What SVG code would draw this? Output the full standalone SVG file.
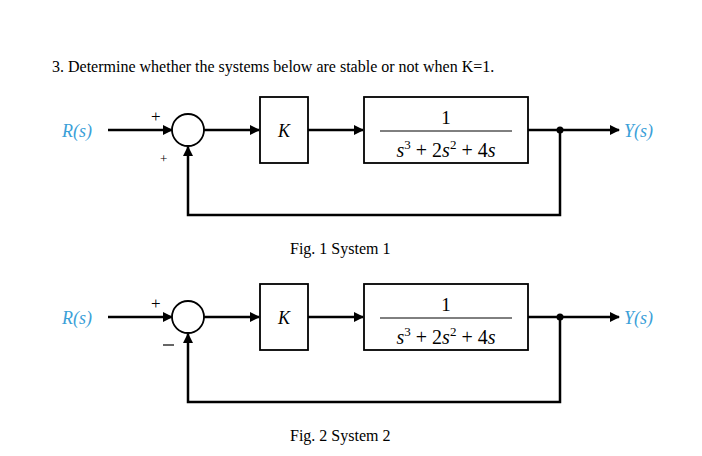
<svg xmlns="http://www.w3.org/2000/svg" width="702" height="456" viewBox="0 0 702 456">
<style>
.l{stroke:#000;stroke-width:2.5;fill:none}
.b{stroke:#000;stroke-width:1.8;fill:#fff}
.t{font-family:"Liberation Serif",serif;font-size:16px;fill:#000}
.i{font-family:"Liberation Serif",serif;font-size:18px;font-style:italic}
.c{fill:#3aa0d8}
.n{font-family:"Liberation Serif",serif;font-size:19px;font-style:normal}
.d{font-family:"Liberation Serif",serif;font-size:20px}
.sup{font-size:13px;font-style:normal}
.p{font-family:"Liberation Serif",serif;font-size:17px}
.ps{font-family:"Liberation Serif",serif;font-size:13px}
</style>
<defs><marker id="a" markerWidth="10" markerHeight="10" refX="9" refY="5" orient="auto" markerUnits="userSpaceOnUse" viewBox="0 0 10 10"><path d="M0,0L10,5L0,10z"/></marker></defs>
<text class="t" x="52" y="72">3. Determine whether the systems below are stable or not when K=1.</text>
<g id="sys1">
<g id="connectors1">
<path class="l" d="M108,130H172" marker-end="url(#a)"/>
<path class="l" d="M204,130H259" marker-end="url(#a)"/>
<path class="l" d="M308,130H363" marker-end="url(#a)"/>
<path class="l" d="M528,130H619" marker-end="url(#a)"/>
<path class="l" d="M560,130V215H188V147" marker-end="url(#a)"/>
<circle cx="560" cy="130" r="3.5"/>
</g>
<g id="sum1"><circle class="b" cx="188" cy="130" r="16"/></g>
<g id="K1"><rect class="b" x="260" y="97" width="48" height="66"/><text class="i" x="284" y="137" text-anchor="middle">K</text></g>
<g id="G1"><rect class="b" x="364" y="97" width="164" height="66"/><text class="n" x="446" y="124" text-anchor="middle">1</text><path d="M380,131H512" stroke="#000" stroke-width="1"/><text class="d" x="446" y="157" text-anchor="middle"><tspan font-style="italic">s</tspan><tspan class="sup" dy="-8">3</tspan><tspan dy="8"> + 2</tspan><tspan font-style="italic">s</tspan><tspan class="sup" dy="-8">2</tspan><tspan dy="8"> + 4</tspan><tspan font-style="italic">s</tspan></text></g>
<text class="i c" x="62" y="137">R(s)</text>
<text class="i c" x="624" y="137">Y(s)</text>
<text class="p" x="151" y="122">+</text>
<text class="ps" x="160" y="163">+</text>
<text class="t" x="290" y="254">Fig. 1 System 1</text>
</g>
<g id="sys2" transform="translate(0,187)">
<g id="connectors2">
<path class="l" d="M108,130H172" marker-end="url(#a)"/>
<path class="l" d="M204,130H259" marker-end="url(#a)"/>
<path class="l" d="M308,130H363" marker-end="url(#a)"/>
<path class="l" d="M528,130H619" marker-end="url(#a)"/>
<path class="l" d="M560,130V215H188V147" marker-end="url(#a)"/>
<circle cx="560" cy="130" r="3.5"/>
</g>
<g id="sum2"><circle class="b" cx="188" cy="130" r="16"/></g>
<g id="K2"><rect class="b" x="260" y="97" width="48" height="66"/><text class="i" x="284" y="137" text-anchor="middle">K</text></g>
<g id="G2"><rect class="b" x="364" y="97" width="164" height="66"/><text class="n" x="446" y="124" text-anchor="middle">1</text><path d="M380,131H512" stroke="#000" stroke-width="1"/><text class="d" x="446" y="157" text-anchor="middle"><tspan font-style="italic">s</tspan><tspan class="sup" dy="-8">3</tspan><tspan dy="8"> + 2</tspan><tspan font-style="italic">s</tspan><tspan class="sup" dy="-8">2</tspan><tspan dy="8"> + 4</tspan><tspan font-style="italic">s</tspan></text></g>
<text class="i c" x="62" y="137">R(s)</text>
<text class="i c" x="624" y="137">Y(s)</text>
<text class="p" x="151" y="122">+</text>
<path d="M163,158H174" stroke="#000" stroke-width="1.2"/>
<text class="t" x="290" y="254">Fig. 2 System 2</text>
</g>
</svg>
